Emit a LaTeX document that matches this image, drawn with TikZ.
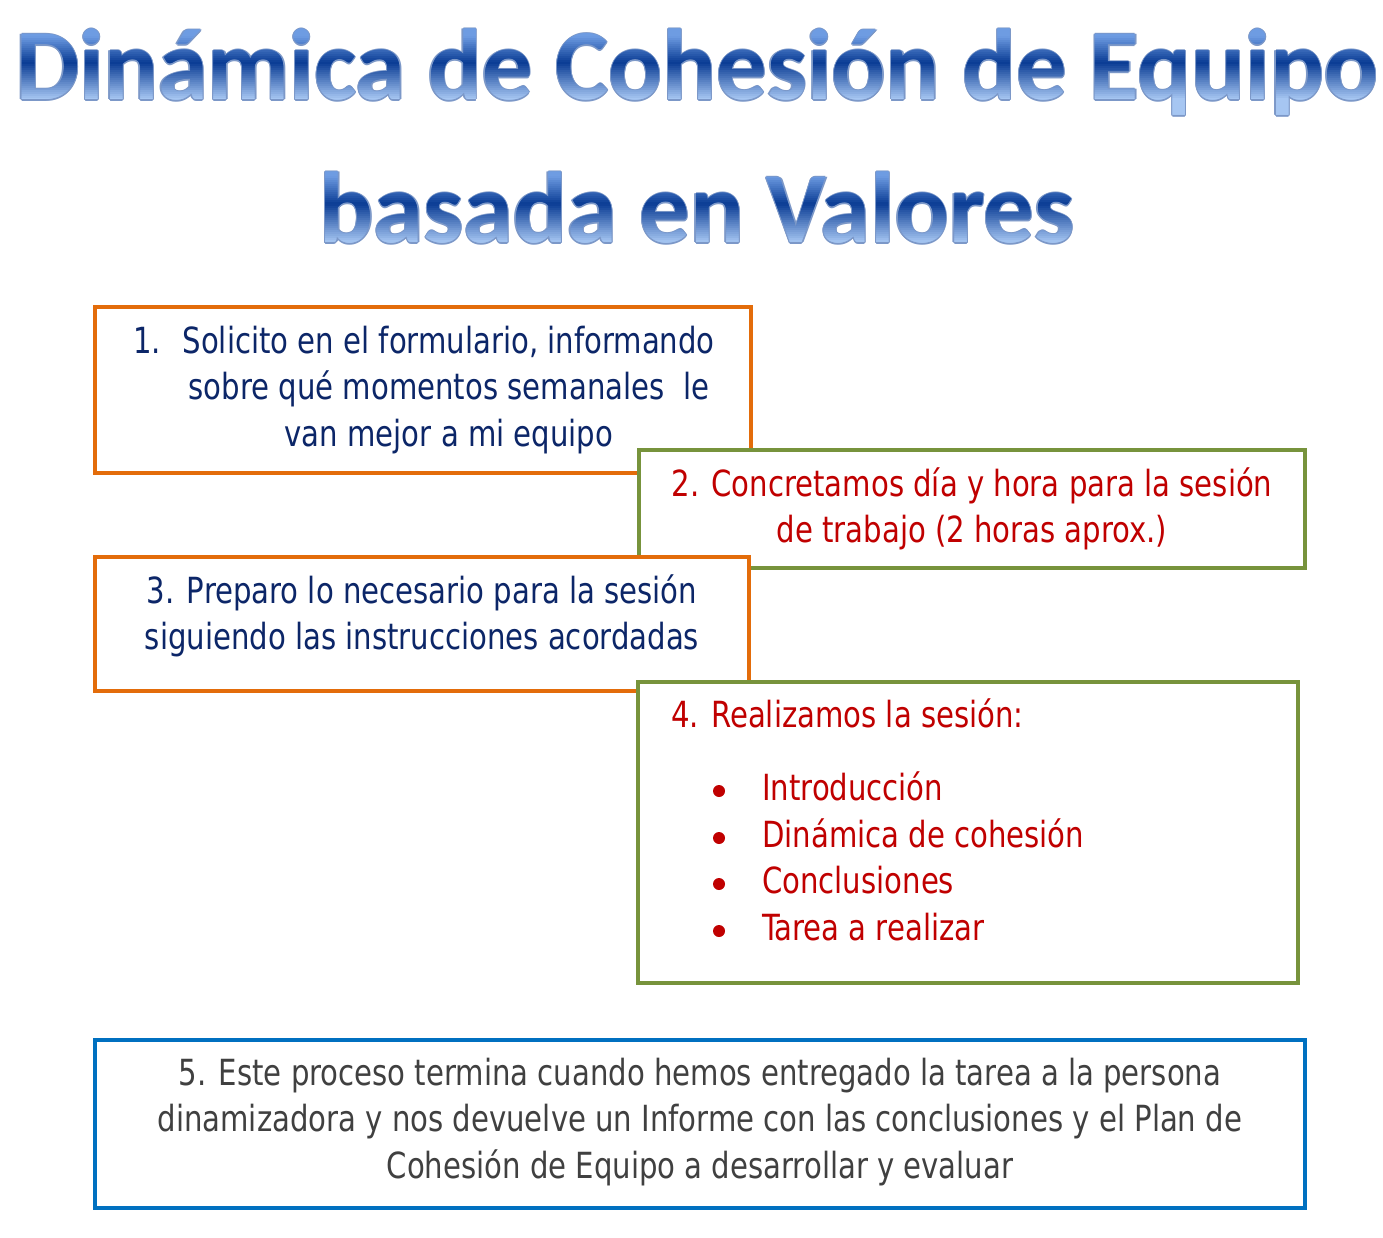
\documentclass[tikz,border=0pt]{standalone}
\usepackage{fontspec}
\setmainfont{DejaVu Sans Condensed}[FakeStretch=0.9]
\newfontfamily\titlefont{Carlito}
\definecolor{orangeb}{HTML}{E36C0A}
\definecolor{greenb}{HTML}{77933C}
\definecolor{blueb}{HTML}{0070C0}
\definecolor{navyt}{HTML}{0C2668}
\definecolor{redt}{HTML}{C00000}
\definecolor{grayt}{HTML}{404040}
\definecolor{ttop}{HTML}{6E9CE2}
\definecolor{tdark}{HTML}{0A3C94}
\definecolor{tlight}{HTML}{A6C6F2}
\definecolor{toutline}{HTML}{7C98C8}
\tikzset{
  titlestyle/.style={font=\titlefont\bfseries\fontsize{100.5}{110}\selectfont, inner sep=0pt, anchor=base},
  boxstyle/.style={draw, fill=white, line width=4pt, inner sep=0pt},
  bodytext/.style={font=\fontsize{36}{46.5}\selectfont, inner sep=0pt, align=center},
  itemtext/.style={font=\fontsize{36}{46.5}\selectfont, inner sep=0pt, anchor=base west, text=redt},
  bulletdot/.style={circle, fill=redt, inner sep=0pt, minimum size=12pt},
}
\newcommand\gradtitle[4]{%
  \foreach \dx/\dy [count=\m] in {1.3/0,-1.3/0,0/1.3,0/-1.3,0.9/0.9,-0.9/0.9,0.9/-0.9,-0.9/-0.9}{%
    \node[titlestyle, text=toutline] (#4-o\m) at (697+\dx,#1+\dy) {#3};
  }%
  \pgfmathsetmacro\yd{#2+0.42*(#1-#2)}%
  \foreach \k in {0,...,59}{%
    \pgfmathsetmacro\ya{#2-22+2*\k}%
    \pgfmathsetmacro\yb{\ya+3}%
    \pgfmathsetmacro\ym{\ya+1}%
    \pgfmathtruncatemacro\pa{max(0,min(100,100*(\ym-(#2))/(\yd-(#2))))}%
    \pgfmathtruncatemacro\pb{max(0,min(100,100*(\ym-\yd)/((#1)-\yd)))}%
    \ifdim\ym pt<\yd pt \colorlet{cc}{tdark!\pa!ttop}\else\colorlet{cc}{tlight!\pb!tdark}\fi
    \begin{scope}
      \clip (0,\ya) rectangle (1383,\yb);
      \node[titlestyle, text=cc] (#4-\k) at (697,#1) {#3};
    \end{scope}
  }}
\begin{document}
\begin{tikzpicture}[x=1pt,y=-1pt]
\useasboundingbox (0,0) rectangle (1383,1238);
\fill[white] (0,0) rectangle (1383,1238);
% title
\gradtitle{100}{37}{Dinámica de Cohesión de Equipo}{tA}
\gradtitle{243}{177}{basada en Valores}{tB}
% boxes
\node[boxstyle, draw=orangeb, minimum width=656pt, minimum height=166pt] (b1) at (423,390) {};
\node[bodytext, text=navyt] (t1) at (449,390) {1.\hspace{0.6em}Solicito en el formulario, informando\hspace*{50pt}\\sobre qué momentos semanales\ \ le\\van mejor a mi equipo};
\node[boxstyle, draw=greenb, minimum width=666pt, minimum height=118pt] (b2) at (972,509) {};
\node[bodytext, text=redt] (t2) at (972,509) {2. Concretamos día y hora para la sesión\\de trabajo (2 horas aprox.)};
\node[boxstyle, draw=orangeb, minimum width=654pt, minimum height=134pt] (b3) at (422,624) {};
\node[bodytext, text=navyt] (t3) at (422,616) {3. Preparo lo necesario para la sesión\\siguiendo las instrucciones acordadas};
\node[boxstyle, draw=greenb, minimum width=660pt, minimum height=301pt] (b4) at (968,832.5) {};
\node[itemtext] (t4) at (671,727) {4. Realizamos la sesión:};
\foreach \txt/\bl [count=\n] in {Introducción/800, Dinámica de cohesión/847, Conclusiones/893, Tarea a realizar/940}{
  \node[bulletdot] (bul\n) at (719,\bl-9) {};
  \node[itemtext] (it\n) at (762,\bl) {\txt};
}
\node[boxstyle, draw=blueb, minimum width=1210pt, minimum height=168pt] (b5) at (700,1124) {};
\node[bodytext, text=grayt] (t5) at (700,1122) {5. Este proceso termina cuando hemos entregado la tarea a la persona\\dinamizadora y nos devuelve un Informe con las conclusiones y el Plan de\\Cohesión de Equipo a desarrollar y evaluar};
\end{tikzpicture}
\end{document}
